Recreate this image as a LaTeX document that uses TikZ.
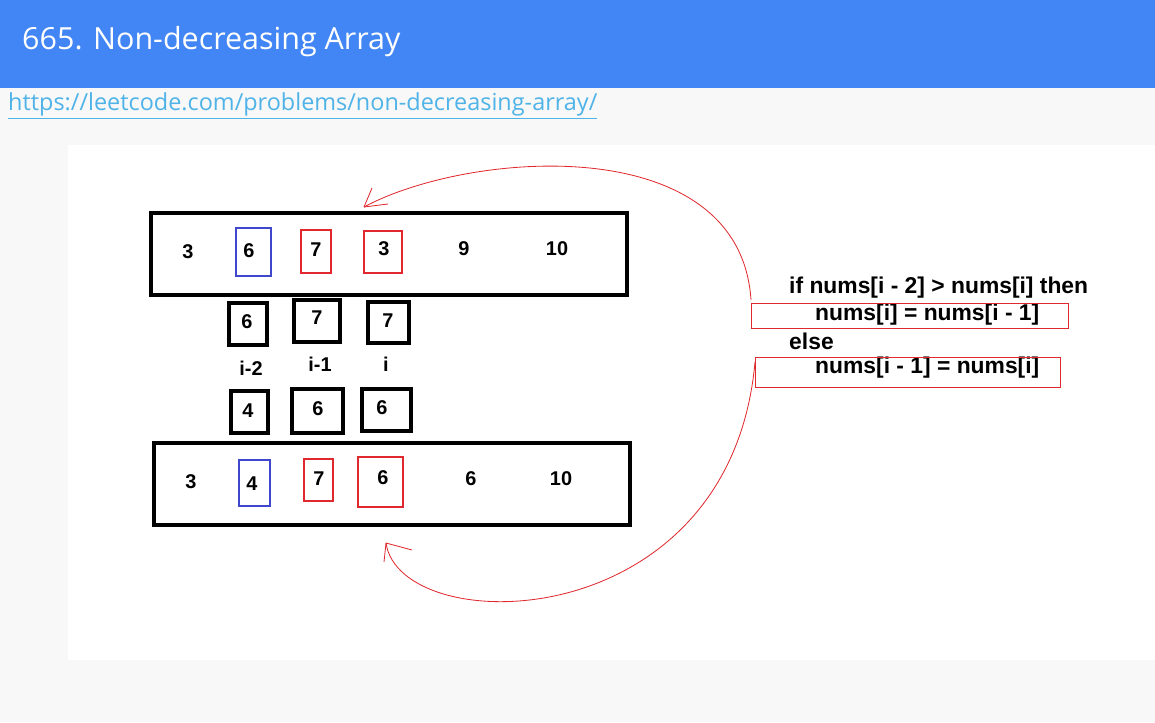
\documentclass[tikz,border=0pt]{standalone}
\usepackage{fontspec}
\setmainfont{Liberation Sans}
\newfontfamily\headfont{Open Sans}
\definecolor{hblue}{HTML}{4285F4}
\definecolor{lnk}{HTML}{4FB3E8}
\definecolor{bgc}{HTML}{F8F8F8}
\definecolor{rd}{HTML}{E0282E}
\definecolor{bl}{HTML}{3F48CC}
\begin{document}
\begin{tikzpicture}[x=0.03cm,y=-0.03cm,
  num/.style={font=\fontsize{17}{19}\selectfont\bfseries},
  arr/.style={draw=black,line width=3.4pt},
  sm/.style={draw=black,line width=2.6pt},
  rb/.style={draw=rd,line width=1.4pt},
  bb/.style={draw=bl,line width=1.4pt},
  code/.style={font=\fontsize{19.5}{22}\selectfont\bfseries,anchor=west,inner sep=0pt},
  thin/.style={draw=rd,line width=0.7pt}]
\useasboundingbox (0,0) rectangle (1155,722);
\fill[bgc] (0,0) rectangle (1155,722);
\fill[hblue] (0,0) rectangle (1155,88);
\node[anchor=west,text=white,font=\headfont\fontsize{26}{30}\selectfont,inner sep=0pt] (title) at (22,42) {665. Non-decreasing Array};
\node[anchor=west,text=lnk,font=\headfont\fontsize{20}{24}\selectfont,inner sep=0pt] (link) at (8,106) {\underline{https://leetcode.com/problems/non-decreasing-array/}};
\fill[white] (68,145) rectangle (1155,660);
% top array
\draw[arr] (151,213) rectangle (627,295);
\node[num] (t1) at (188,252) {3};
\draw[bb] (236,228) rectangle (271,276); \node[num] (t2) at (249,251) {6};
\draw[rb] (301,230) rectangle (331,273); \node[num] (t3) at (316,250) {7};
\draw[rb] (364,231) rectangle (402,273); \node[num] (t4) at (384,249) {3};
\node[num] (t5) at (464,249) {9};
\node[num] (t6) at (557,249) {10};
% middle boxes
\draw[sm] (229,303) rectangle (267,345); \node[num] (m1) at (247,322) {6};
\draw[sm] (294,300) rectangle (340,342); \node[num] (m2) at (317,318) {7};
\draw[sm] (368,302) rectangle (409,343); \node[num] (m3) at (388,321) {7};
\node[num] (l1) at (251,368) {i-2};
\node[num] (l2) at (320,364) {i-1};
\node[num] (l3) at (386,364) {i};
\draw[sm] (231,391) rectangle (268,433); \node[num] (n1) at (248,411) {4};
\draw[sm] (292,389) rectangle (343,433); \node[num] (n2) at (318,409) {6};
\draw[sm] (362,389) rectangle (411,431); \node[num] (n3) at (382,408) {6};
% bottom array
\draw[arr] (154,443) rectangle (630,525);
\node[num] (b1) at (191,482) {3};
\draw[bb] (239,460) rectangle (270,506); \node[num] (b2) at (252,484) {4};
\draw[rb] (304,459) rectangle (333,501); \node[num] (b3) at (319,479) {7};
\draw[rb] (358,457) rectangle (403,507); \node[num] (b4) at (383,478) {6};
\node[num] (b5) at (471,479) {6};
\node[num] (b6) at (561,479) {10};
% code
\node[code] (c1) at (789,288) {if nums[i - 2] > nums[i] then};
\node[code] (c2) at (815,315) {nums[i] = nums[i - 1]};
\node[code] (c3) at (789,341) {else};
\node[code] (c4) at (815,368) {nums[i - 1] = nums[i]};
\draw[thin] (751,303) rectangle (1068,328);
\draw[thin] (755,357) rectangle (1060,387);
% curves
\coordinate (s1) at (751,300);
\coordinate (e1) at (364,207);
\draw[thin] (s1) .. controls (740,130) and (470,150) .. (e1);
\draw[thin] (e1) -- (372,188);
\draw[thin] (e1) -- (388,204);
\coordinate (s2) at (755,362);
\coordinate (e2) at (386,543);
\draw[thin] (s2) .. controls (730,640) and (400,640) .. (e2);
\draw[thin] (e2) -- (384,562);
\draw[thin] (e2) -- (412,550);
\end{tikzpicture}
\end{document}
